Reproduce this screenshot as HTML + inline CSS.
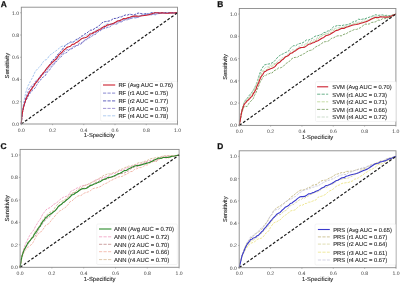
<!DOCTYPE html><html><head><meta charset="utf-8"><style>html,body{margin:0;padding:0;background:#fff;width:400px;height:283px;overflow:hidden}svg{display:block;will-change:transform}text{font-family:"Liberation Sans",sans-serif;text-rendering:geometricPrecision}</style></head><body>
<svg width="400" height="283" viewBox="0 0 400 283">
<rect width="400" height="283" fill="#fff"/>
<path d="M21.30,124.00 L21.75,117.76 L22.41,112.90 L23.18,109.03 L24.03,105.75 L24.95,102.96 L25.92,100.20 L26.95,98.97 L28.02,96.68 L29.13,94.56 L30.28,92.83 L31.46,92.07 L32.68,89.66 L33.93,89.09 L35.20,87.89 L36.51,85.40 L37.84,83.14 L39.20,81.27 L40.58,80.05 L41.98,77.85 L43.41,76.91 L44.85,76.28 L46.32,73.72 L47.81,71.37 L49.32,70.39 L50.85,67.90 L52.39,65.81 L53.95,64.62 L55.54,62.04 L57.13,61.04 L58.75,58.73 L60.38,57.26 L62.02,55.96 L63.69,53.47 L65.36,53.14 L67.06,52.27 L68.76,50.20 L70.48,48.98 L72.22,48.67 L73.97,47.20 L75.73,46.27 L77.51,45.44 L79.29,44.55 L81.10,43.88 L82.91,42.59 L84.74,40.22 L86.58,39.65 L88.43,38.12 L90.29,37.30 L92.16,35.96 L94.05,34.73 L95.95,34.13 L97.85,31.76 L99.77,31.31 L101.70,29.53 L103.65,28.57 L105.60,28.03 L107.56,27.49 L109.53,27.00 L111.51,25.44 L113.51,24.05 L115.51,24.25 L117.52,23.66 L119.54,21.77 L121.58,22.01 L123.62,20.10 L125.67,19.06 L127.73,18.16 L129.80,18.85 L131.88,17.99 L133.97,17.76 L136.06,17.85 L138.17,17.26 L140.28,15.61 L142.41,15.11 L144.54,14.75 L146.68,14.19 L148.83,14.71 L150.98,14.75 L153.15,14.45 L155.32,14.79 L157.51,13.89 L159.70,13.26 L161.89,12.76 L164.10,12.76 L166.31,12.76 L168.54,12.76 L170.77,12.76 L173.00,12.86 L175.25,12.76 L177.50,12.76" fill="none" stroke="#6a6ac4" stroke-width="0.9" stroke-dasharray="2.4,1.1"/>
<path d="M21.30,124.00 L21.75,117.59 L22.41,112.59 L23.18,108.41 L24.03,104.87 L24.95,102.02 L25.92,98.81 L26.95,96.98 L28.02,94.75 L29.13,92.83 L30.28,90.46 L31.46,88.90 L32.68,86.48 L33.93,85.53 L35.20,82.92 L36.51,81.09 L37.84,79.84 L39.20,77.69 L40.58,75.38 L41.98,74.74 L43.41,73.49 L44.85,71.47 L46.32,68.45 L47.81,67.12 L49.32,65.49 L50.85,63.09 L52.39,60.18 L53.95,59.45 L55.54,57.68 L57.13,54.95 L58.75,53.86 L60.38,51.65 L62.02,49.75 L63.69,47.56 L65.36,45.57 L67.06,44.03 L68.76,43.31 L70.48,42.04 L72.22,42.15 L73.97,41.82 L75.73,39.79 L77.51,38.94 L79.29,38.13 L81.10,36.22 L82.91,35.78 L84.74,34.00 L86.58,33.30 L88.43,31.64 L90.29,30.24 L92.16,30.11 L94.05,29.00 L95.95,27.52 L97.85,26.98 L99.77,25.04 L101.70,23.03 L103.65,21.92 L105.60,21.54 L107.56,21.30 L109.53,20.88 L111.51,19.96 L113.51,18.49 L115.51,18.44 L117.52,18.01 L119.54,16.93 L121.58,16.81 L123.62,15.69 L125.67,14.95 L127.73,15.06 L129.80,14.10 L131.88,14.69 L133.97,15.10 L136.06,13.92 L138.17,13.06 L140.28,13.41 L142.41,13.96 L144.54,13.88 L146.68,13.52 L148.83,13.96 L150.98,12.76 L153.15,12.76 L155.32,12.76 L157.51,12.76 L159.70,12.76 L161.89,12.76 L164.10,12.76 L166.31,12.76 L168.54,12.76 L170.77,12.76 L173.00,12.76 L175.25,12.76 L177.50,12.76" fill="none" stroke="#3c3cae" stroke-width="0.9" stroke-dasharray="2.4,1.1"/>
<path d="M21.30,124.00 L21.75,117.40 L22.41,111.99 L23.18,107.60 L24.03,103.88 L24.95,100.53 L25.92,97.19 L26.95,94.66 L28.02,91.74 L29.13,88.62 L30.28,87.97 L31.46,85.94 L32.68,85.11 L33.93,83.87 L35.20,81.55 L36.51,80.32 L37.84,79.89 L39.20,78.02 L40.58,75.85 L41.98,74.28 L43.41,74.06 L44.85,73.33 L46.32,71.75 L47.81,69.25 L49.32,67.06 L50.85,65.71 L52.39,64.59 L53.95,62.88 L55.54,61.12 L57.13,58.50 L58.75,57.34 L60.38,55.96 L62.02,53.47 L63.69,52.31 L65.36,50.42 L67.06,49.69 L68.76,49.71 L70.48,48.96 L72.22,47.66 L73.97,45.71 L75.73,45.91 L77.51,44.97 L79.29,43.36 L81.10,42.82 L82.91,41.95 L84.74,39.88 L86.58,39.02 L88.43,37.73 L90.29,35.82 L92.16,33.96 L94.05,33.78 L95.95,32.17 L97.85,31.42 L99.77,29.90 L101.70,29.43 L103.65,28.05 L105.60,26.62 L107.56,25.94 L109.53,24.78 L111.51,24.08 L113.51,24.09 L115.51,22.84 L117.52,21.99 L119.54,21.68 L121.58,21.65 L123.62,20.20 L125.67,20.05 L127.73,19.70 L129.80,18.94 L131.88,17.89 L133.97,16.65 L136.06,17.22 L138.17,17.34 L140.28,16.25 L142.41,15.34 L144.54,15.09 L146.68,14.26 L148.83,14.72 L150.98,14.76 L153.15,14.33 L155.32,13.23 L157.51,13.43 L159.70,13.57 L161.89,13.21 L164.10,13.31 L166.31,12.76 L168.54,13.12 L170.77,13.10 L173.00,12.84 L175.25,12.92 L177.50,12.76" fill="none" stroke="#8a7ccc" stroke-width="0.9" stroke-dasharray="2.4,1.1"/>
<path d="M21.30,124.00 L21.75,116.85 L22.41,110.71 L23.18,105.26 L24.03,100.64 L24.95,96.30 L25.92,91.95 L26.95,88.77 L28.02,85.78 L29.13,83.93 L30.28,81.41 L31.46,79.49 L32.68,77.13 L33.93,74.37 L35.20,71.63 L36.51,70.04 L37.84,68.58 L39.20,67.28 L40.58,65.88 L41.98,63.62 L43.41,61.57 L44.85,60.02 L46.32,59.79 L47.81,58.14 L49.32,55.66 L50.85,54.36 L52.39,53.59 L53.95,52.05 L55.54,51.16 L57.13,49.96 L58.75,48.71 L60.38,46.91 L62.02,46.26 L63.69,46.07 L65.36,45.27 L67.06,44.15 L68.76,43.33 L70.48,42.66 L72.22,42.19 L73.97,41.41 L75.73,40.07 L77.51,40.21 L79.29,39.91 L81.10,38.96 L82.91,37.79 L84.74,36.84 L86.58,34.99 L88.43,34.55 L90.29,33.03 L92.16,32.59 L94.05,32.06 L95.95,30.44 L97.85,29.49 L99.77,27.70 L101.70,27.75 L103.65,26.07 L105.60,24.64 L107.56,23.65 L109.53,24.13 L111.51,23.69 L113.51,23.63 L115.51,22.20 L117.52,20.63 L119.54,20.37 L121.58,19.10 L123.62,19.56 L125.67,19.61 L127.73,18.65 L129.80,17.53 L131.88,17.56 L133.97,16.42 L136.06,15.37 L138.17,15.28 L140.28,15.70 L142.41,15.21 L144.54,14.84 L146.68,13.85 L148.83,13.46 L150.98,13.74 L153.15,14.23 L155.32,13.36 L157.51,12.76 L159.70,12.81 L161.89,12.76 L164.10,12.76 L166.31,12.76 L168.54,12.76 L170.77,12.76 L173.00,12.76 L175.25,12.76 L177.50,12.76" fill="none" stroke="#9cc0ec" stroke-width="0.9" stroke-dasharray="2.4,1.1"/>
<path d="M21.30,124.00 L21.75,117.61 L22.41,112.59 L23.18,108.53 L24.03,105.07 L24.95,102.33 L25.92,99.31 L26.95,97.04 L28.02,94.93 L29.13,92.35 L30.28,90.86 L31.46,89.32 L32.68,87.38 L33.93,86.00 L35.20,83.49 L36.51,82.11 L37.84,80.50 L39.20,78.38 L40.58,77.08 L41.98,74.81 L43.41,72.59 L44.85,71.30 L46.32,68.93 L47.81,67.39 L49.32,65.37 L50.85,63.90 L52.39,62.35 L53.95,60.84 L55.54,59.51 L57.13,57.67 L58.75,55.10 L60.38,53.64 L62.02,52.23 L63.69,50.15 L65.36,48.96 L67.06,47.38 L68.76,46.83 L70.48,46.15 L72.22,44.37 L73.97,44.21 L75.73,42.86 L77.51,42.03 L79.29,40.55 L81.10,39.10 L82.91,38.11 L84.74,37.81 L86.58,37.18 L88.43,35.72 L90.29,33.96 L92.16,33.50 L94.05,32.24 L95.95,31.48 L97.85,30.23 L99.77,29.43 L101.70,28.08 L103.65,26.87 L105.60,26.28 L107.56,24.79 L109.53,24.60 L111.51,23.98 L113.51,23.24 L115.51,22.30 L117.52,20.98 L119.54,20.63 L121.58,19.69 L123.62,18.61 L125.67,18.81 L127.73,17.71 L129.80,17.24 L131.88,16.54 L133.97,16.11 L136.06,16.03 L138.17,16.20 L140.28,16.02 L142.41,15.71 L144.54,15.42 L146.68,15.15 L148.83,14.78 L150.98,14.02 L153.15,13.30 L155.32,12.82 L157.51,12.76 L159.70,13.10 L161.89,12.76 L164.10,12.97 L166.31,13.26 L168.54,13.12 L170.77,12.85 L173.00,12.96 L175.25,12.87 L177.50,12.76" fill="none" stroke="#cc1f2e" stroke-width="1.1" stroke-linejoin="round"/>
<line x1="21.30" y1="124.00" x2="177.50" y2="12.76" stroke="#1a1a1a" stroke-width="1.2" stroke-dasharray="2.8,1.8"/>
<rect x="21.30" y="7.20" width="156.20" height="116.80" fill="none" stroke="#8a8a8a" stroke-width="0.9"/>
<line x1="21.30" y1="124.00" x2="21.30" y2="125.20" stroke="#8a8a8a" stroke-width="0.6"/>
<text x="21.30" y="131.50" font-size="5.1" fill="#3c3c3c" text-anchor="middle">0.0</text>
<line x1="20.10" y1="124.00" x2="21.30" y2="124.00" stroke="#8a8a8a" stroke-width="0.6"/>
<text x="19.00" y="125.90" font-size="5.1" fill="#3c3c3c" text-anchor="end">0.0</text>
<line x1="52.54" y1="124.00" x2="52.54" y2="125.20" stroke="#8a8a8a" stroke-width="0.6"/>
<text x="52.54" y="131.50" font-size="5.1" fill="#3c3c3c" text-anchor="middle">0.2</text>
<line x1="20.10" y1="101.75" x2="21.30" y2="101.75" stroke="#8a8a8a" stroke-width="0.6"/>
<text x="19.00" y="103.65" font-size="5.1" fill="#3c3c3c" text-anchor="end">0.2</text>
<line x1="83.78" y1="124.00" x2="83.78" y2="125.20" stroke="#8a8a8a" stroke-width="0.6"/>
<text x="83.78" y="131.50" font-size="5.1" fill="#3c3c3c" text-anchor="middle">0.4</text>
<line x1="20.10" y1="79.50" x2="21.30" y2="79.50" stroke="#8a8a8a" stroke-width="0.6"/>
<text x="19.00" y="81.40" font-size="5.1" fill="#3c3c3c" text-anchor="end">0.4</text>
<line x1="115.02" y1="124.00" x2="115.02" y2="125.20" stroke="#8a8a8a" stroke-width="0.6"/>
<text x="115.02" y="131.50" font-size="5.1" fill="#3c3c3c" text-anchor="middle">0.6</text>
<line x1="20.10" y1="57.26" x2="21.30" y2="57.26" stroke="#8a8a8a" stroke-width="0.6"/>
<text x="19.00" y="59.16" font-size="5.1" fill="#3c3c3c" text-anchor="end">0.6</text>
<line x1="146.26" y1="124.00" x2="146.26" y2="125.20" stroke="#8a8a8a" stroke-width="0.6"/>
<text x="146.26" y="131.50" font-size="5.1" fill="#3c3c3c" text-anchor="middle">0.8</text>
<line x1="20.10" y1="35.01" x2="21.30" y2="35.01" stroke="#8a8a8a" stroke-width="0.6"/>
<text x="19.00" y="36.91" font-size="5.1" fill="#3c3c3c" text-anchor="end">0.8</text>
<line x1="177.50" y1="124.00" x2="177.50" y2="125.20" stroke="#8a8a8a" stroke-width="0.6"/>
<text x="177.50" y="131.50" font-size="5.1" fill="#3c3c3c" text-anchor="middle">1.0</text>
<line x1="20.10" y1="12.76" x2="21.30" y2="12.76" stroke="#8a8a8a" stroke-width="0.6"/>
<text x="19.00" y="14.66" font-size="5.1" fill="#3c3c3c" text-anchor="end">1.0</text>
<text x="99.40" y="137.20" font-size="5.80" fill="#262626" stroke="#262626" stroke-width="0.1" text-anchor="middle">1-Specificity</text>
<text x="8.70" y="65.60" font-size="5.70" fill="#262626" stroke="#262626" stroke-width="0.1" text-anchor="middle" transform="rotate(-90 8.70 65.60)">Sensitivity</text>
<rect x="100.60" y="81.30" width="76.40" height="39.90" rx="1.2" fill="#fff" fill-opacity="0.8" stroke="#e8e8e8" stroke-width="0.5"/>
<line x1="103.00" y1="85.00" x2="115.20" y2="85.00" stroke="#cc1f2e" stroke-width="1.1"/>
<text x="118.40" y="87.30" font-size="5.80" fill="#262626" stroke="#262626" stroke-width="0.1">RF (Avg AUC = 0.76)</text>
<line x1="103.00" y1="93.10" x2="115.20" y2="93.10" stroke="#6a6ac4" stroke-width="0.8" stroke-dasharray="3.2,1.3"/>
<text x="118.40" y="95.40" font-size="5.80" fill="#262626" stroke="#262626" stroke-width="0.1">RF (r1 AUC = 0.75)</text>
<line x1="103.00" y1="100.90" x2="115.20" y2="100.90" stroke="#3c3cae" stroke-width="0.8" stroke-dasharray="3.2,1.3"/>
<text x="118.40" y="103.20" font-size="5.80" fill="#262626" stroke="#262626" stroke-width="0.1">RF (r2 AUC = 0.77)</text>
<line x1="103.00" y1="108.40" x2="115.20" y2="108.40" stroke="#8a7ccc" stroke-width="0.8" stroke-dasharray="3.2,1.3"/>
<text x="118.40" y="110.70" font-size="5.80" fill="#262626" stroke="#262626" stroke-width="0.1">RF (r3 AUC = 0.75)</text>
<line x1="103.00" y1="115.80" x2="115.20" y2="115.80" stroke="#9cc0ec" stroke-width="0.8" stroke-dasharray="3.2,1.3"/>
<text x="118.40" y="118.10" font-size="5.80" fill="#262626" stroke="#262626" stroke-width="0.1">RF (r4 AUC = 0.78)</text>
<text x="0.70" y="6.90" font-size="8.4" font-weight="bold" fill="#111" stroke="#111" stroke-width="0.25">A</text>
<path d="M239.30,125.40 L239.75,122.60 L240.41,118.56 L241.18,113.86 L242.03,109.30 L242.96,106.11 L243.93,102.88 L244.96,101.06 L246.03,99.34 L247.15,98.36 L248.30,96.79 L249.49,95.12 L250.71,93.75 L251.96,92.16 L253.24,90.09 L254.55,88.12 L255.88,85.60 L257.24,81.50 L258.63,76.72 L260.03,72.89 L261.46,69.22 L262.91,67.01 L264.39,64.93 L265.88,64.54 L267.39,64.17 L268.92,63.99 L270.47,63.59 L272.04,62.91 L273.62,62.00 L275.22,60.19 L276.84,58.11 L278.48,56.87 L280.13,55.06 L281.80,54.35 L283.48,53.69 L285.17,52.65 L286.88,52.01 L288.61,51.02 L290.35,48.27 L292.10,46.64 L293.87,45.57 L295.65,45.84 L297.44,44.36 L299.25,43.65 L301.07,43.24 L302.90,42.67 L304.74,41.42 L306.60,39.87 L308.47,40.16 L310.34,39.25 L312.24,38.41 L314.14,36.82 L316.05,35.84 L317.97,35.75 L319.91,34.76 L321.86,34.30 L323.81,32.53 L325.78,32.37 L327.76,31.01 L329.74,30.64 L331.74,28.42 L333.75,26.61 L335.77,26.12 L337.80,25.37 L339.83,25.62 L341.88,25.60 L343.94,24.96 L346.00,24.94 L348.08,24.30 L350.16,23.69 L352.25,22.29 L354.36,21.53 L356.47,20.85 L358.59,19.18 L360.72,19.63 L362.85,19.07 L365.00,18.75 L367.15,17.95 L369.32,17.18 L371.49,16.43 L373.67,15.58 L375.85,14.70 L378.05,15.43 L380.25,15.09 L382.47,14.91 L384.69,15.54 L386.91,15.32 L389.15,15.61 L391.39,15.35 L393.64,14.54 L395.90,14.07" fill="none" stroke="#48a070" stroke-width="0.9" stroke-dasharray="2.4,1.1"/>
<path d="M239.30,125.40 L239.75,122.69 L240.41,118.70 L241.18,114.18 L242.03,110.22 L242.96,106.97 L243.93,104.02 L244.96,102.54 L246.03,101.26 L247.15,99.83 L248.30,98.72 L249.49,96.98 L250.71,95.88 L251.96,93.83 L253.24,92.71 L254.55,89.08 L255.88,87.32 L257.24,83.81 L258.63,79.52 L260.03,76.66 L261.46,73.97 L262.91,71.30 L264.39,70.50 L265.88,70.16 L267.39,68.93 L268.92,67.52 L270.47,66.66 L272.04,66.06 L273.62,65.75 L275.22,63.67 L276.84,63.34 L278.48,62.52 L280.13,61.26 L281.80,59.77 L283.48,59.08 L285.17,57.56 L286.88,56.28 L288.61,55.30 L290.35,53.78 L292.10,52.43 L293.87,51.76 L295.65,49.77 L297.44,48.84 L299.25,48.53 L301.07,47.90 L302.90,47.39 L304.74,45.71 L306.60,43.92 L308.47,44.02 L310.34,42.54 L312.24,42.26 L314.14,41.58 L316.05,40.06 L317.97,39.22 L319.91,37.15 L321.86,36.00 L323.81,34.75 L325.78,33.87 L327.76,34.11 L329.74,33.10 L331.74,32.24 L333.75,30.15 L335.77,29.67 L337.80,29.60 L339.83,28.35 L341.88,27.96 L343.94,27.25 L346.00,26.94 L348.08,26.51 L350.16,24.96 L352.25,24.43 L354.36,23.44 L356.47,23.35 L358.59,23.26 L360.72,22.89 L362.85,22.44 L365.00,21.34 L367.15,20.90 L369.32,19.81 L371.49,19.51 L373.67,18.55 L375.85,18.38 L378.05,17.50 L380.25,16.61 L382.47,16.27 L384.69,15.72 L386.91,16.79 L389.15,16.82 L391.39,15.80 L393.64,14.86 L395.90,14.07" fill="none" stroke="#b8d490" stroke-width="0.9" stroke-dasharray="2.4,1.1"/>
<path d="M239.30,125.40 L239.75,123.00 L240.41,119.59 L241.18,115.49 L242.03,111.89 L242.96,109.70 L243.93,106.89 L244.96,106.15 L246.03,106.42 L247.15,106.40 L248.30,104.49 L249.49,102.44 L250.71,101.21 L251.96,100.21 L253.24,98.64 L254.55,95.22 L255.88,92.96 L257.24,89.30 L258.63,86.22 L260.03,82.24 L261.46,79.98 L262.91,76.95 L264.39,75.61 L265.88,75.51 L267.39,74.04 L268.92,73.91 L270.47,72.95 L272.04,73.12 L273.62,71.04 L275.22,70.16 L276.84,69.49 L278.48,68.00 L280.13,67.94 L281.80,67.32 L283.48,66.24 L285.17,64.23 L286.88,62.95 L288.61,62.16 L290.35,60.12 L292.10,58.60 L293.87,57.61 L295.65,57.38 L297.44,57.43 L299.25,55.56 L301.07,55.38 L302.90,54.16 L304.74,53.35 L306.60,51.95 L308.47,50.83 L310.34,50.39 L312.24,49.90 L314.14,48.22 L316.05,46.64 L317.97,45.90 L319.91,44.83 L321.86,43.35 L323.81,41.92 L325.78,41.64 L327.76,41.33 L329.74,40.13 L331.74,38.10 L333.75,37.82 L335.77,36.52 L337.80,35.81 L339.83,35.79 L341.88,35.78 L343.94,34.23 L346.00,33.97 L348.08,32.45 L350.16,31.41 L352.25,30.55 L354.36,29.47 L356.47,29.41 L358.59,28.65 L360.72,27.47 L362.85,25.80 L365.00,24.12 L367.15,24.17 L369.32,23.94 L371.49,22.46 L373.67,22.19 L375.85,21.69 L378.05,20.06 L380.25,20.29 L382.47,18.73 L384.69,18.65 L386.91,18.03 L389.15,17.60 L391.39,16.65 L393.64,15.31 L395.90,14.07" fill="none" stroke="#78a060" stroke-width="0.9" stroke-dasharray="2.4,1.1"/>
<path d="M239.30,125.40 L239.75,122.67 L240.41,118.57 L241.18,113.81 L242.03,109.81 L242.96,106.56 L243.93,102.97 L244.96,101.45 L246.03,100.17 L247.15,99.11 L248.30,97.01 L249.49,96.53 L250.71,94.14 L251.96,92.72 L253.24,90.59 L254.55,87.50 L255.88,85.01 L257.24,80.87 L258.63,78.17 L260.03,74.39 L261.46,72.43 L262.91,70.41 L264.39,68.44 L265.88,67.09 L267.39,66.88 L268.92,66.79 L270.47,65.19 L272.04,64.61 L273.62,63.90 L275.22,63.30 L276.84,62.29 L278.48,60.38 L280.13,59.59 L281.80,57.89 L283.48,57.67 L285.17,56.71 L286.88,55.11 L288.61,54.08 L290.35,51.60 L292.10,49.78 L293.87,49.99 L295.65,49.39 L297.44,48.02 L299.25,46.47 L301.07,45.23 L302.90,45.09 L304.74,44.44 L306.60,43.18 L308.47,41.54 L310.34,41.59 L312.24,39.93 L314.14,40.00 L316.05,38.56 L317.97,37.53 L319.91,36.71 L321.86,35.31 L323.81,34.42 L325.78,34.20 L327.76,33.34 L329.74,31.41 L331.74,30.28 L333.75,28.85 L335.77,28.19 L337.80,27.85 L339.83,27.68 L341.88,27.71 L343.94,26.44 L346.00,25.72 L348.08,25.05 L350.16,25.41 L352.25,24.48 L354.36,23.76 L356.47,22.81 L358.59,22.10 L360.72,22.13 L362.85,20.99 L365.00,19.53 L367.15,20.08 L369.32,19.99 L371.49,18.07 L373.67,16.77 L375.85,16.66 L378.05,16.04 L380.25,16.18 L382.47,16.83 L384.69,16.11 L386.91,16.11 L389.15,16.19 L391.39,15.39 L393.64,14.75 L395.90,14.07" fill="none" stroke="#c0d4c0" stroke-width="0.9" stroke-dasharray="2.4,1.1"/>
<path d="M239.30,125.40 L239.75,122.79 L240.41,119.00 L241.18,114.55 L242.03,110.51 L242.96,107.80 L243.93,104.81 L244.96,103.47 L246.03,102.40 L247.15,100.89 L248.30,99.97 L249.49,98.90 L250.71,97.36 L251.96,96.38 L253.24,93.83 L254.55,91.87 L255.88,89.55 L257.24,85.69 L258.63,82.76 L260.03,79.02 L261.46,76.06 L262.91,74.31 L264.39,71.80 L265.88,71.14 L267.39,70.00 L268.92,69.41 L270.47,68.78 L272.04,68.15 L273.62,67.50 L275.22,66.33 L276.84,64.11 L278.48,63.01 L280.13,61.95 L281.80,60.18 L283.48,58.94 L285.17,57.12 L286.88,56.34 L288.61,55.42 L290.35,53.31 L292.10,52.98 L293.87,51.58 L295.65,50.68 L297.44,49.25 L299.25,48.12 L301.07,47.48 L302.90,47.54 L304.74,47.14 L306.60,45.88 L308.47,44.33 L310.34,44.07 L312.24,43.01 L314.14,42.45 L316.05,41.38 L317.97,40.77 L319.91,39.55 L321.86,38.18 L323.81,37.41 L325.78,35.71 L327.76,35.32 L329.74,34.39 L331.74,33.34 L333.75,32.09 L335.77,30.63 L337.80,30.28 L339.83,29.34 L341.88,28.25 L343.94,28.46 L346.00,27.27 L348.08,26.72 L350.16,25.93 L352.25,25.31 L354.36,24.79 L356.47,24.53 L358.59,23.92 L360.72,23.27 L362.85,22.66 L365.00,22.07 L367.15,21.37 L369.32,20.21 L371.49,19.01 L373.67,18.04 L375.85,17.20 L378.05,17.71 L380.25,16.84 L382.47,17.04 L384.69,17.17 L386.91,17.14 L389.15,16.71 L391.39,15.97 L393.64,15.03 L395.90,14.07" fill="none" stroke="#cc1f2e" stroke-width="1.1" stroke-linejoin="round"/>
<line x1="239.30" y1="125.40" x2="395.90" y2="14.07" stroke="#1a1a1a" stroke-width="1.2" stroke-dasharray="2.8,1.8"/>
<rect x="239.30" y="8.50" width="156.60" height="116.90" fill="none" stroke="#8a8a8a" stroke-width="0.9"/>
<line x1="239.30" y1="125.40" x2="239.30" y2="126.60" stroke="#8a8a8a" stroke-width="0.6"/>
<text x="239.30" y="132.90" font-size="5.1" fill="#3c3c3c" text-anchor="middle">0.0</text>
<line x1="238.10" y1="125.40" x2="239.30" y2="125.40" stroke="#8a8a8a" stroke-width="0.6"/>
<text x="237.00" y="127.30" font-size="5.1" fill="#3c3c3c" text-anchor="end">0.0</text>
<line x1="270.62" y1="125.40" x2="270.62" y2="126.60" stroke="#8a8a8a" stroke-width="0.6"/>
<text x="270.62" y="132.90" font-size="5.1" fill="#3c3c3c" text-anchor="middle">0.2</text>
<line x1="238.10" y1="103.13" x2="239.30" y2="103.13" stroke="#8a8a8a" stroke-width="0.6"/>
<text x="237.00" y="105.03" font-size="5.1" fill="#3c3c3c" text-anchor="end">0.2</text>
<line x1="301.94" y1="125.40" x2="301.94" y2="126.60" stroke="#8a8a8a" stroke-width="0.6"/>
<text x="301.94" y="132.90" font-size="5.1" fill="#3c3c3c" text-anchor="middle">0.4</text>
<line x1="238.10" y1="80.87" x2="239.30" y2="80.87" stroke="#8a8a8a" stroke-width="0.6"/>
<text x="237.00" y="82.77" font-size="5.1" fill="#3c3c3c" text-anchor="end">0.4</text>
<line x1="333.26" y1="125.40" x2="333.26" y2="126.60" stroke="#8a8a8a" stroke-width="0.6"/>
<text x="333.26" y="132.90" font-size="5.1" fill="#3c3c3c" text-anchor="middle">0.6</text>
<line x1="238.10" y1="58.60" x2="239.30" y2="58.60" stroke="#8a8a8a" stroke-width="0.6"/>
<text x="237.00" y="60.50" font-size="5.1" fill="#3c3c3c" text-anchor="end">0.6</text>
<line x1="364.58" y1="125.40" x2="364.58" y2="126.60" stroke="#8a8a8a" stroke-width="0.6"/>
<text x="364.58" y="132.90" font-size="5.1" fill="#3c3c3c" text-anchor="middle">0.8</text>
<line x1="238.10" y1="36.33" x2="239.30" y2="36.33" stroke="#8a8a8a" stroke-width="0.6"/>
<text x="237.00" y="38.23" font-size="5.1" fill="#3c3c3c" text-anchor="end">0.8</text>
<line x1="395.90" y1="125.40" x2="395.90" y2="126.60" stroke="#8a8a8a" stroke-width="0.6"/>
<text x="395.90" y="132.90" font-size="5.1" fill="#3c3c3c" text-anchor="middle">1.0</text>
<line x1="238.10" y1="14.07" x2="239.30" y2="14.07" stroke="#8a8a8a" stroke-width="0.6"/>
<text x="237.00" y="15.97" font-size="5.1" fill="#3c3c3c" text-anchor="end">1.0</text>
<text x="317.60" y="138.60" font-size="5.80" fill="#262626" stroke="#262626" stroke-width="0.1" text-anchor="middle">1-Specificity</text>
<text x="226.70" y="66.95" font-size="5.70" fill="#262626" stroke="#262626" stroke-width="0.1" text-anchor="middle" transform="rotate(-90 226.70 66.95)">Sensitivity</text>
<rect x="315.50" y="81.70" width="80.80" height="39.80" rx="1.2" fill="#fff" fill-opacity="0.8" stroke="#e8e8e8" stroke-width="0.5"/>
<line x1="317.10" y1="86.80" x2="328.20" y2="86.80" stroke="#cc1f2e" stroke-width="1.1"/>
<text x="332.30" y="89.10" font-size="5.80" fill="#262626" stroke="#262626" stroke-width="0.1">SVM (Avg AUC = 0.70)</text>
<line x1="317.10" y1="94.20" x2="328.20" y2="94.20" stroke="#48a070" stroke-width="0.8" stroke-dasharray="3.2,1.3"/>
<text x="332.30" y="96.50" font-size="5.80" fill="#262626" stroke="#262626" stroke-width="0.1">SVM (r1 AUC = 0.73)</text>
<line x1="317.10" y1="101.80" x2="328.20" y2="101.80" stroke="#b8d490" stroke-width="0.8" stroke-dasharray="3.2,1.3"/>
<text x="332.30" y="104.10" font-size="5.80" fill="#262626" stroke="#262626" stroke-width="0.1">SVM (r2 AUC = 0.71)</text>
<line x1="317.10" y1="109.40" x2="328.20" y2="109.40" stroke="#78a060" stroke-width="0.8" stroke-dasharray="3.2,1.3"/>
<text x="332.30" y="111.70" font-size="5.80" fill="#262626" stroke="#262626" stroke-width="0.1">SVM (r3 AUC = 0.66)</text>
<line x1="317.10" y1="117.00" x2="328.20" y2="117.00" stroke="#c0d4c0" stroke-width="0.8" stroke-dasharray="3.2,1.3"/>
<text x="332.30" y="119.30" font-size="5.80" fill="#262626" stroke="#262626" stroke-width="0.1">SVM (r4 AUC = 0.72)</text>
<text x="217.20" y="6.90" font-size="8.4" font-weight="bold" fill="#111" stroke="#111" stroke-width="0.25">B</text>
<path d="M20.10,267.30 L20.56,264.07 L21.23,259.25 L22.01,254.72 L22.88,251.76 L23.81,248.78 L24.80,245.82 L25.85,243.00 L26.94,241.19 L28.07,238.70 L29.24,236.32 L30.44,234.26 L31.68,232.54 L32.95,230.97 L34.25,229.14 L35.58,226.06 L36.94,224.10 L38.32,221.56 L39.72,220.01 L41.15,217.59 L42.60,214.30 L44.08,212.45 L45.57,210.54 L47.09,208.80 L48.62,208.29 L50.17,207.51 L51.75,206.31 L53.34,204.37 L54.95,203.89 L56.58,202.69 L58.22,201.49 L59.88,199.64 L61.55,198.48 L63.25,197.32 L64.95,196.76 L66.68,196.22 L68.41,195.37 L70.17,192.08 L71.93,190.67 L73.71,190.10 L75.51,188.95 L77.31,187.83 L79.13,187.54 L80.97,185.98 L82.81,185.73 L84.67,185.10 L86.55,184.87 L88.43,184.17 L90.33,183.74 L92.23,182.18 L94.15,180.62 L96.08,179.95 L98.03,179.17 L99.98,178.97 L101.95,177.84 L103.92,177.13 L105.91,176.92 L107.90,176.58 L109.91,174.94 L111.93,173.94 L113.96,173.41 L116.00,172.97 L118.05,171.52 L120.11,170.40 L122.17,170.37 L124.25,169.40 L126.34,168.12 L128.44,167.57 L130.54,166.99 L132.66,166.32 L134.79,164.90 L136.92,164.88 L139.06,164.72 L141.22,163.80 L143.38,163.50 L145.55,162.30 L147.73,160.86 L149.91,160.54 L152.11,160.50 L154.31,159.14 L156.53,159.47 L158.75,159.13 L160.98,157.53 L163.21,157.21 L165.46,156.34 L167.71,155.99 L169.98,156.22 L172.24,156.30 L174.52,155.74 L176.81,155.47 L179.10,155.01" fill="none" stroke="#f09cc0" stroke-width="0.9" stroke-dasharray="2.4,1.1"/>
<path d="M20.10,267.30 L20.56,264.39 L21.23,260.04 L22.01,256.10 L22.88,253.55 L23.81,251.14 L24.80,249.00 L25.85,247.85 L26.94,245.88 L28.07,244.07 L29.24,242.25 L30.44,240.51 L31.68,239.00 L32.95,237.48 L34.25,236.82 L35.58,235.66 L36.94,232.85 L38.32,230.30 L39.72,227.34 L41.15,225.89 L42.60,223.54 L44.08,221.48 L45.57,219.88 L47.09,218.10 L48.62,217.31 L50.17,216.18 L51.75,213.49 L53.34,212.28 L54.95,210.53 L56.58,208.49 L58.22,207.17 L59.88,205.62 L61.55,204.20 L63.25,203.37 L64.95,201.46 L66.68,200.33 L68.41,197.95 L70.17,196.51 L71.93,194.13 L73.71,192.70 L75.51,192.55 L77.31,191.92 L79.13,190.89 L80.97,189.38 L82.81,188.44 L84.67,188.24 L86.55,187.61 L88.43,185.78 L90.33,186.02 L92.23,185.15 L94.15,183.22 L96.08,182.40 L98.03,181.81 L99.98,180.41 L101.95,179.72 L103.92,179.28 L105.91,179.09 L107.90,179.09 L109.91,177.30 L111.93,177.06 L113.96,176.80 L116.00,175.58 L118.05,174.53 L120.11,173.87 L122.17,173.37 L124.25,172.96 L126.34,172.01 L128.44,170.93 L130.54,168.97 L132.66,167.75 L134.79,166.75 L136.92,166.86 L139.06,165.89 L141.22,164.41 L143.38,163.32 L145.55,162.59 L147.73,162.19 L149.91,162.14 L152.11,161.31 L154.31,161.43 L156.53,161.10 L158.75,158.98 L160.98,157.72 L163.21,156.96 L165.46,156.62 L167.71,157.33 L169.98,157.24 L172.24,156.51 L174.52,156.01 L176.81,155.58 L179.10,155.01" fill="none" stroke="#c08c8c" stroke-width="0.9" stroke-dasharray="2.4,1.1"/>
<path d="M20.10,267.30 L20.56,264.55 L21.23,260.49 L22.01,257.13 L22.88,255.06 L23.81,252.62 L24.80,251.12 L25.85,249.50 L26.94,248.01 L28.07,247.20 L29.24,246.35 L30.44,245.54 L31.68,243.98 L32.95,242.78 L34.25,240.07 L35.58,237.59 L36.94,235.52 L38.32,233.94 L39.72,232.23 L41.15,231.78 L42.60,229.92 L44.08,227.88 L45.57,225.27 L47.09,224.52 L48.62,223.80 L50.17,221.91 L51.75,219.72 L53.34,218.09 L54.95,215.99 L56.58,214.10 L58.22,212.25 L59.88,210.78 L61.55,210.24 L63.25,208.57 L64.95,207.82 L66.68,206.29 L68.41,204.23 L70.17,201.56 L71.93,200.99 L73.71,199.22 L75.51,197.70 L77.31,196.38 L79.13,195.59 L80.97,195.58 L82.81,194.07 L84.67,192.98 L86.55,192.40 L88.43,191.79 L90.33,190.88 L92.23,188.96 L94.15,188.29 L96.08,187.99 L98.03,187.41 L99.98,186.75 L101.95,185.62 L103.92,184.09 L105.91,183.44 L107.90,182.51 L109.91,180.93 L111.93,180.12 L113.96,179.00 L116.00,178.09 L118.05,177.00 L120.11,176.60 L122.17,176.42 L124.25,175.01 L126.34,174.33 L128.44,172.96 L130.54,171.60 L132.66,171.34 L134.79,169.06 L136.92,168.73 L139.06,167.55 L141.22,167.63 L143.38,166.37 L145.55,165.10 L147.73,164.83 L149.91,163.00 L152.11,162.13 L154.31,160.88 L156.53,161.12 L158.75,159.42 L160.98,158.25 L163.21,157.52 L165.46,157.94 L167.71,158.10 L169.98,157.45 L172.24,156.40 L174.52,156.26 L176.81,155.58 L179.10,155.01" fill="none" stroke="#f0b0a0" stroke-width="0.9" stroke-dasharray="2.4,1.1"/>
<path d="M20.10,267.30 L20.56,264.30 L21.23,259.80 L22.01,255.93 L22.88,253.17 L23.81,250.10 L24.80,248.27 L25.85,246.84 L26.94,244.40 L28.07,242.87 L29.24,241.89 L30.44,239.79 L31.68,237.28 L32.95,236.43 L34.25,233.24 L35.58,230.74 L36.94,229.40 L38.32,227.63 L39.72,225.38 L41.15,222.70 L42.60,220.06 L44.08,218.43 L45.57,215.88 L47.09,214.72 L48.62,213.33 L50.17,212.28 L51.75,211.60 L53.34,210.55 L54.95,207.64 L56.58,205.43 L58.22,203.76 L59.88,202.16 L61.55,201.29 L63.25,200.76 L64.95,199.41 L66.68,198.73 L68.41,196.40 L70.17,194.44 L71.93,193.09 L73.71,192.53 L75.51,191.70 L77.31,189.55 L79.13,188.86 L80.97,188.41 L82.81,186.30 L84.67,185.59 L86.55,185.06 L88.43,183.93 L90.33,182.96 L92.23,182.08 L94.15,181.42 L96.08,180.79 L98.03,178.77 L99.98,177.97 L101.95,176.65 L103.92,175.23 L105.91,174.74 L107.90,173.72 L109.91,174.02 L111.93,173.54 L113.96,172.28 L116.00,172.48 L118.05,170.69 L120.11,169.67 L122.17,169.03 L124.25,167.96 L126.34,167.02 L128.44,166.14 L130.54,166.38 L132.66,165.19 L134.79,164.88 L136.92,163.45 L139.06,162.65 L141.22,162.62 L143.38,161.56 L145.55,161.17 L147.73,160.22 L149.91,159.04 L152.11,158.38 L154.31,158.08 L156.53,157.27 L158.75,157.44 L160.98,156.62 L163.21,155.94 L165.46,155.70 L167.71,155.60 L169.98,155.47 L172.24,155.57 L174.52,155.65 L176.81,155.25 L179.10,155.01" fill="none" stroke="#d8bc98" stroke-width="0.9" stroke-dasharray="2.4,1.1"/>
<path d="M20.10,267.30 L20.56,264.31 L21.23,259.96 L22.01,256.05 L22.88,253.40 L23.81,250.79 L24.80,248.63 L25.85,246.67 L26.94,244.82 L28.07,242.57 L29.24,241.32 L30.44,240.03 L31.68,238.34 L32.95,237.17 L34.25,234.38 L35.58,232.60 L36.94,230.61 L38.32,228.22 L39.72,226.66 L41.15,224.11 L42.60,221.62 L44.08,220.09 L45.57,217.67 L47.09,216.68 L48.62,215.22 L50.17,214.25 L51.75,213.19 L53.34,212.05 L54.95,210.91 L56.58,209.24 L58.22,206.49 L59.88,205.24 L61.55,204.19 L63.25,202.47 L64.95,201.41 L66.68,199.76 L68.41,198.62 L70.17,196.89 L71.93,194.86 L73.71,194.54 L75.51,193.03 L77.31,192.03 L79.13,190.50 L80.97,189.27 L82.81,188.63 L84.67,188.69 L86.55,188.27 L88.43,186.98 L90.33,185.40 L92.23,185.12 L94.15,184.03 L96.08,183.45 L98.03,182.37 L99.98,181.75 L101.95,180.50 L103.92,179.35 L105.91,178.88 L107.90,177.49 L109.91,177.42 L111.93,176.82 L113.96,176.07 L116.00,175.12 L118.05,173.78 L120.11,173.27 L122.17,172.00 L124.25,170.59 L126.34,170.48 L128.44,168.95 L130.54,168.04 L132.66,166.89 L134.79,166.01 L136.92,165.48 L139.06,165.35 L141.22,164.86 L143.38,164.22 L145.55,163.61 L147.73,163.03 L149.91,162.34 L152.11,161.19 L154.31,159.97 L156.53,158.98 L158.75,158.08 L160.98,158.40 L163.21,157.45 L165.46,157.57 L167.71,157.41 L169.98,156.90 L172.24,156.24 L174.52,155.98 L176.81,155.50 L179.10,155.01" fill="none" stroke="#2a8a2a" stroke-width="1.1" stroke-linejoin="round"/>
<line x1="20.10" y1="267.30" x2="179.10" y2="155.01" stroke="#1a1a1a" stroke-width="1.2" stroke-dasharray="2.8,1.8"/>
<rect x="20.10" y="149.40" width="159.00" height="117.90" fill="none" stroke="#8a8a8a" stroke-width="0.9"/>
<line x1="20.10" y1="267.30" x2="20.10" y2="268.50" stroke="#8a8a8a" stroke-width="0.6"/>
<text x="20.10" y="274.80" font-size="5.1" fill="#3c3c3c" text-anchor="middle">0.0</text>
<line x1="18.90" y1="267.30" x2="20.10" y2="267.30" stroke="#8a8a8a" stroke-width="0.6"/>
<text x="17.80" y="269.20" font-size="5.1" fill="#3c3c3c" text-anchor="end">0.0</text>
<line x1="51.90" y1="267.30" x2="51.90" y2="268.50" stroke="#8a8a8a" stroke-width="0.6"/>
<text x="51.90" y="274.80" font-size="5.1" fill="#3c3c3c" text-anchor="middle">0.2</text>
<line x1="18.90" y1="244.84" x2="20.10" y2="244.84" stroke="#8a8a8a" stroke-width="0.6"/>
<text x="17.80" y="246.74" font-size="5.1" fill="#3c3c3c" text-anchor="end">0.2</text>
<line x1="83.70" y1="267.30" x2="83.70" y2="268.50" stroke="#8a8a8a" stroke-width="0.6"/>
<text x="83.70" y="274.80" font-size="5.1" fill="#3c3c3c" text-anchor="middle">0.4</text>
<line x1="18.90" y1="222.39" x2="20.10" y2="222.39" stroke="#8a8a8a" stroke-width="0.6"/>
<text x="17.80" y="224.29" font-size="5.1" fill="#3c3c3c" text-anchor="end">0.4</text>
<line x1="115.50" y1="267.30" x2="115.50" y2="268.50" stroke="#8a8a8a" stroke-width="0.6"/>
<text x="115.50" y="274.80" font-size="5.1" fill="#3c3c3c" text-anchor="middle">0.6</text>
<line x1="18.90" y1="199.93" x2="20.10" y2="199.93" stroke="#8a8a8a" stroke-width="0.6"/>
<text x="17.80" y="201.83" font-size="5.1" fill="#3c3c3c" text-anchor="end">0.6</text>
<line x1="147.30" y1="267.30" x2="147.30" y2="268.50" stroke="#8a8a8a" stroke-width="0.6"/>
<text x="147.30" y="274.80" font-size="5.1" fill="#3c3c3c" text-anchor="middle">0.8</text>
<line x1="18.90" y1="177.47" x2="20.10" y2="177.47" stroke="#8a8a8a" stroke-width="0.6"/>
<text x="17.80" y="179.37" font-size="5.1" fill="#3c3c3c" text-anchor="end">0.8</text>
<line x1="179.10" y1="267.30" x2="179.10" y2="268.50" stroke="#8a8a8a" stroke-width="0.6"/>
<text x="179.10" y="274.80" font-size="5.1" fill="#3c3c3c" text-anchor="middle">1.0</text>
<line x1="18.90" y1="155.01" x2="20.10" y2="155.01" stroke="#8a8a8a" stroke-width="0.6"/>
<text x="17.80" y="156.91" font-size="5.1" fill="#3c3c3c" text-anchor="end">1.0</text>
<text x="99.60" y="280.50" font-size="5.90" fill="#262626" stroke="#262626" stroke-width="0.1" text-anchor="middle">1-Specificity</text>
<text x="9.30" y="208.35" font-size="5.80" fill="#262626" stroke="#262626" stroke-width="0.1" text-anchor="middle" transform="rotate(-90 9.30 208.35)">Sensitivity</text>
<rect x="96.75" y="224.00" width="80.55" height="40.50" rx="1.2" fill="#fff" fill-opacity="0.8" stroke="#e8e8e8" stroke-width="0.5"/>
<line x1="99.00" y1="229.00" x2="111.40" y2="229.00" stroke="#2a8a2a" stroke-width="1.1"/>
<text x="114.00" y="231.30" font-size="5.90" fill="#262626" stroke="#262626" stroke-width="0.1">ANN (Avg AUC = 0.70)</text>
<line x1="99.00" y1="236.80" x2="111.40" y2="236.80" stroke="#f09cc0" stroke-width="0.8" stroke-dasharray="3.2,1.3"/>
<text x="114.00" y="239.10" font-size="5.90" fill="#262626" stroke="#262626" stroke-width="0.1">ANN (r1 AUC = 0.72)</text>
<line x1="99.00" y1="244.30" x2="111.40" y2="244.30" stroke="#c08c8c" stroke-width="0.8" stroke-dasharray="3.2,1.3"/>
<text x="114.00" y="246.60" font-size="5.90" fill="#262626" stroke="#262626" stroke-width="0.1">ANN (r2 AUC = 0.70)</text>
<line x1="99.00" y1="251.70" x2="111.40" y2="251.70" stroke="#f0b0a0" stroke-width="0.8" stroke-dasharray="3.2,1.3"/>
<text x="114.00" y="254.00" font-size="5.90" fill="#262626" stroke="#262626" stroke-width="0.1">ANN (r3 AUC = 0.66)</text>
<line x1="99.00" y1="259.60" x2="111.40" y2="259.60" stroke="#d8bc98" stroke-width="0.8" stroke-dasharray="3.2,1.3"/>
<text x="114.00" y="261.90" font-size="5.90" fill="#262626" stroke="#262626" stroke-width="0.1">ANN (r4 AUC = 0.70)</text>
<text x="0.50" y="148.50" font-size="8.4" font-weight="bold" fill="#111" stroke="#111" stroke-width="0.25">C</text>
<path d="M239.20,267.70 L239.65,265.71 L240.31,262.71 L241.08,259.18 L241.94,255.38 L242.86,252.79 L243.84,250.40 L244.87,247.61 L245.94,244.96 L247.06,242.92 L248.21,240.76 L249.40,239.70 L250.62,238.56 L251.88,236.90 L253.16,236.08 L254.47,235.16 L255.80,233.86 L257.16,232.47 L258.55,231.84 L259.96,230.81 L261.39,229.36 L262.84,228.12 L264.32,225.07 L265.81,223.19 L267.33,221.64 L268.86,218.38 L270.41,216.04 L271.98,214.42 L273.57,210.77 L275.17,209.23 L276.79,207.72 L278.43,206.91 L280.08,206.00 L281.75,204.67 L283.43,203.61 L285.13,202.42 L286.85,201.23 L288.57,199.79 L290.32,197.78 L292.07,196.27 L293.84,195.56 L295.62,193.31 L297.42,192.17 L299.23,190.88 L301.05,189.99 L302.88,190.19 L304.73,189.37 L306.58,188.66 L308.45,187.46 L310.34,187.32 L312.23,185.33 L314.13,184.92 L316.05,184.68 L317.98,183.35 L319.91,181.93 L321.86,180.73 L323.82,180.26 L325.79,180.15 L327.77,179.07 L329.76,177.90 L331.76,177.13 L333.77,175.73 L335.79,174.38 L337.82,173.94 L339.86,173.25 L341.91,172.51 L343.97,172.80 L346.04,171.35 L348.12,171.37 L350.20,171.21 L352.30,171.22 L354.40,170.55 L356.52,169.72 L358.64,169.20 L360.77,168.90 L362.91,168.76 L365.06,168.32 L367.22,166.73 L369.38,165.74 L371.56,164.76 L373.74,164.17 L375.93,163.02 L378.13,162.37 L380.33,161.00 L382.55,161.06 L384.77,160.25 L387.00,158.90 L389.24,158.13 L391.49,157.61 L393.74,157.05 L396.00,156.37" fill="none" stroke="#c4b880" stroke-width="0.9" stroke-dasharray="2.4,1.1"/>
<path d="M239.20,267.70 L239.65,265.83 L240.31,263.06 L241.08,259.67 L241.94,256.08 L242.86,253.87 L243.84,251.49 L244.87,249.60 L245.94,247.30 L247.06,246.11 L248.21,244.31 L249.40,242.10 L250.62,241.29 L251.88,240.62 L253.16,240.00 L254.47,239.58 L255.80,237.76 L257.16,237.58 L258.55,235.53 L259.96,233.84 L261.39,233.64 L262.84,231.54 L264.32,230.29 L265.81,228.66 L267.33,227.16 L268.86,225.30 L270.41,222.46 L271.98,220.98 L273.57,218.53 L275.17,216.54 L276.79,215.71 L278.43,214.33 L280.08,214.80 L281.75,213.63 L283.43,211.43 L285.13,210.81 L286.85,209.84 L288.57,207.40 L290.32,205.85 L292.07,204.78 L293.84,204.39 L295.62,202.54 L297.42,201.73 L299.23,199.82 L301.05,199.63 L302.88,198.24 L304.73,198.15 L306.58,196.67 L308.45,195.91 L310.34,194.62 L312.23,193.84 L314.13,192.75 L316.05,192.07 L317.98,191.67 L319.91,190.47 L321.86,188.57 L323.82,187.58 L325.79,187.57 L327.77,186.52 L329.76,184.38 L331.76,184.22 L333.77,183.54 L335.79,181.85 L337.82,180.21 L339.86,179.63 L341.91,179.01 L343.97,178.48 L346.04,178.45 L348.12,178.16 L350.20,176.89 L352.30,176.17 L354.40,174.76 L356.52,174.08 L358.64,172.03 L360.77,170.68 L362.91,170.10 L365.06,169.76 L367.22,169.06 L369.38,167.20 L371.56,165.77 L373.74,164.58 L375.93,164.37 L378.13,163.97 L380.33,163.00 L382.55,161.20 L384.77,160.73 L387.00,159.38 L389.24,159.10 L391.49,158.14 L393.74,157.15 L396.00,156.37" fill="none" stroke="#d8d4a0" stroke-width="0.9" stroke-dasharray="2.4,1.1"/>
<path d="M239.20,267.70 L239.65,265.89 L240.31,263.20 L241.08,260.08 L241.94,256.51 L242.86,254.42 L243.84,252.63 L244.87,250.91 L245.94,248.56 L247.06,246.96 L248.21,246.41 L249.40,244.15 L250.62,243.00 L251.88,243.00 L253.16,242.26 L254.47,241.78 L255.80,240.88 L257.16,239.47 L258.55,238.84 L259.96,238.45 L261.39,238.24 L262.84,237.17 L264.32,235.32 L265.81,233.14 L267.33,232.34 L268.86,230.52 L270.41,227.49 L271.98,225.23 L273.57,223.05 L275.17,222.26 L276.79,221.81 L278.43,220.66 L280.08,219.88 L281.75,218.27 L283.43,216.39 L285.13,215.62 L286.85,213.69 L288.57,212.90 L290.32,211.02 L292.07,210.56 L293.84,210.27 L295.62,209.62 L297.42,207.53 L299.23,206.10 L301.05,205.01 L302.88,205.10 L304.73,203.50 L306.58,203.41 L308.45,202.20 L310.34,202.06 L312.23,201.25 L314.13,200.53 L316.05,199.85 L317.98,197.38 L319.91,196.61 L321.86,196.16 L323.82,195.29 L325.79,194.27 L327.77,192.19 L329.76,190.85 L331.76,190.09 L333.77,188.54 L335.79,186.67 L337.82,185.55 L339.86,184.79 L341.91,183.39 L343.97,183.08 L346.04,182.70 L348.12,182.54 L350.20,181.77 L352.30,181.05 L354.40,179.27 L356.52,178.70 L358.64,177.72 L360.77,176.10 L362.91,175.01 L365.06,172.88 L367.22,171.92 L369.38,170.11 L371.56,169.49 L373.74,168.23 L375.93,166.67 L378.13,164.59 L380.33,164.32 L382.55,163.56 L384.77,162.13 L387.00,161.05 L389.24,159.50 L391.49,158.61 L393.74,157.59 L396.00,156.37" fill="none" stroke="#ece488" stroke-width="0.9" stroke-dasharray="2.4,1.1"/>
<path d="M239.20,267.70 L239.65,265.67 L240.31,262.62 L241.08,259.06 L241.94,255.26 L242.86,252.69 L243.84,250.46 L244.87,248.08 L245.94,245.88 L247.06,243.21 L248.21,241.17 L249.40,239.29 L250.62,236.72 L251.88,236.18 L253.16,235.84 L254.47,233.85 L255.80,233.50 L257.16,232.35 L258.55,231.16 L259.96,229.13 L261.39,227.99 L262.84,226.96 L264.32,225.83 L265.81,224.40 L267.33,221.60 L268.86,218.70 L270.41,215.87 L271.98,213.91 L273.57,211.13 L275.17,210.09 L276.79,209.46 L278.43,209.26 L280.08,208.05 L281.75,205.59 L283.43,204.10 L285.13,202.43 L286.85,200.60 L288.57,199.82 L290.32,199.41 L292.07,198.47 L293.84,197.09 L295.62,196.48 L297.42,194.82 L299.23,192.70 L301.05,192.04 L302.88,190.69 L304.73,190.14 L306.58,189.25 L308.45,189.19 L310.34,188.36 L312.23,187.24 L314.13,187.11 L316.05,185.84 L317.98,186.13 L319.91,184.63 L321.86,183.44 L323.82,182.37 L325.79,181.33 L327.77,180.55 L329.76,179.99 L331.76,179.03 L333.77,178.78 L335.79,177.04 L337.82,176.38 L339.86,175.21 L341.91,174.98 L343.97,174.47 L346.04,174.54 L348.12,172.90 L350.20,172.46 L352.30,171.53 L354.40,170.60 L356.52,170.27 L358.64,169.42 L360.77,168.49 L362.91,167.30 L365.06,167.57 L367.22,166.32 L369.38,166.01 L371.56,164.27 L373.74,164.42 L375.93,163.95 L378.13,162.25 L380.33,161.91 L382.55,161.19 L384.77,159.60 L387.00,158.73 L389.24,158.03 L391.49,157.64 L393.74,156.93 L396.00,156.37" fill="none" stroke="#c8c8dc" stroke-width="0.9" stroke-dasharray="2.4,1.1"/>
<path d="M239.20,267.70 L239.65,265.80 L240.31,263.03 L241.08,259.79 L241.94,256.03 L242.86,253.77 L243.84,251.44 L244.87,248.78 L245.94,246.47 L247.06,244.42 L248.21,242.95 L249.40,241.42 L250.62,239.50 L251.88,239.31 L253.16,237.97 L254.47,237.67 L255.80,237.11 L257.16,235.71 L258.55,235.15 L259.96,233.62 L261.39,232.02 L262.84,230.91 L264.32,228.60 L265.81,227.12 L267.33,225.15 L268.86,223.45 L270.41,221.46 L271.98,219.50 L273.57,217.72 L275.17,216.24 L276.79,214.21 L278.43,213.31 L280.08,212.45 L281.75,210.53 L283.43,209.19 L285.13,207.28 L286.85,206.39 L288.57,205.53 L290.32,203.50 L292.07,203.02 L293.84,201.41 L295.62,200.30 L297.42,198.66 L299.23,197.33 L301.05,196.47 L302.88,196.67 L304.73,196.42 L306.58,195.32 L308.45,193.92 L310.34,193.82 L312.23,192.88 L314.13,192.30 L316.05,191.22 L317.98,190.60 L319.91,189.36 L321.86,187.98 L323.82,187.25 L325.79,185.62 L327.77,185.29 L329.76,184.43 L331.76,183.44 L333.77,182.29 L335.79,180.82 L337.82,180.17 L339.86,179.00 L341.91,177.69 L343.97,177.67 L346.04,176.27 L348.12,175.73 L350.20,174.96 L352.30,174.45 L354.40,174.04 L356.52,173.55 L358.64,172.71 L360.77,171.72 L362.91,170.80 L365.06,170.02 L367.22,169.12 L369.38,167.78 L371.56,166.19 L373.74,164.78 L375.93,163.44 L378.13,163.23 L380.33,161.84 L382.55,161.50 L384.77,160.89 L387.00,159.92 L389.24,158.85 L391.49,158.17 L393.74,157.27 L396.00,156.37" fill="none" stroke="#3a3acc" stroke-width="1.1" stroke-linejoin="round"/>
<line x1="239.20" y1="267.70" x2="396.00" y2="156.37" stroke="#1a1a1a" stroke-width="1.2" stroke-dasharray="2.8,1.8"/>
<rect x="239.20" y="150.80" width="156.80" height="116.90" fill="none" stroke="#8a8a8a" stroke-width="0.9"/>
<line x1="239.20" y1="267.70" x2="239.20" y2="268.90" stroke="#8a8a8a" stroke-width="0.6"/>
<text x="239.20" y="275.20" font-size="5.1" fill="#3c3c3c" text-anchor="middle">0.0</text>
<line x1="238.00" y1="267.70" x2="239.20" y2="267.70" stroke="#8a8a8a" stroke-width="0.6"/>
<text x="236.90" y="269.60" font-size="5.1" fill="#3c3c3c" text-anchor="end">0.0</text>
<line x1="270.56" y1="267.70" x2="270.56" y2="268.90" stroke="#8a8a8a" stroke-width="0.6"/>
<text x="270.56" y="275.20" font-size="5.1" fill="#3c3c3c" text-anchor="middle">0.2</text>
<line x1="238.00" y1="245.43" x2="239.20" y2="245.43" stroke="#8a8a8a" stroke-width="0.6"/>
<text x="236.90" y="247.33" font-size="5.1" fill="#3c3c3c" text-anchor="end">0.2</text>
<line x1="301.92" y1="267.70" x2="301.92" y2="268.90" stroke="#8a8a8a" stroke-width="0.6"/>
<text x="301.92" y="275.20" font-size="5.1" fill="#3c3c3c" text-anchor="middle">0.4</text>
<line x1="238.00" y1="223.17" x2="239.20" y2="223.17" stroke="#8a8a8a" stroke-width="0.6"/>
<text x="236.90" y="225.07" font-size="5.1" fill="#3c3c3c" text-anchor="end">0.4</text>
<line x1="333.28" y1="267.70" x2="333.28" y2="268.90" stroke="#8a8a8a" stroke-width="0.6"/>
<text x="333.28" y="275.20" font-size="5.1" fill="#3c3c3c" text-anchor="middle">0.6</text>
<line x1="238.00" y1="200.90" x2="239.20" y2="200.90" stroke="#8a8a8a" stroke-width="0.6"/>
<text x="236.90" y="202.80" font-size="5.1" fill="#3c3c3c" text-anchor="end">0.6</text>
<line x1="364.64" y1="267.70" x2="364.64" y2="268.90" stroke="#8a8a8a" stroke-width="0.6"/>
<text x="364.64" y="275.20" font-size="5.1" fill="#3c3c3c" text-anchor="middle">0.8</text>
<line x1="238.00" y1="178.63" x2="239.20" y2="178.63" stroke="#8a8a8a" stroke-width="0.6"/>
<text x="236.90" y="180.53" font-size="5.1" fill="#3c3c3c" text-anchor="end">0.8</text>
<line x1="396.00" y1="267.70" x2="396.00" y2="268.90" stroke="#8a8a8a" stroke-width="0.6"/>
<text x="396.00" y="275.20" font-size="5.1" fill="#3c3c3c" text-anchor="middle">1.0</text>
<line x1="238.00" y1="156.37" x2="239.20" y2="156.37" stroke="#8a8a8a" stroke-width="0.6"/>
<text x="236.90" y="158.27" font-size="5.1" fill="#3c3c3c" text-anchor="end">1.0</text>
<text x="317.60" y="280.90" font-size="5.80" fill="#262626" stroke="#262626" stroke-width="0.1" text-anchor="middle">1-Specificity</text>
<text x="226.60" y="209.25" font-size="5.70" fill="#262626" stroke="#262626" stroke-width="0.1" text-anchor="middle" transform="rotate(-90 226.60 209.25)">Sensitivity</text>
<rect x="315.00" y="224.00" width="80.50" height="41.00" rx="1.2" fill="#fff" fill-opacity="0.8" stroke="#e8e8e8" stroke-width="0.5"/>
<line x1="317.90" y1="229.50" x2="329.80" y2="229.50" stroke="#3a3acc" stroke-width="1.1"/>
<text x="333.20" y="231.80" font-size="5.80" fill="#262626" stroke="#262626" stroke-width="0.1">PRS (Avg AUC = 0.65)</text>
<line x1="317.90" y1="236.90" x2="329.80" y2="236.90" stroke="#c4b880" stroke-width="0.8" stroke-dasharray="3.2,1.3"/>
<text x="333.20" y="239.20" font-size="5.80" fill="#262626" stroke="#262626" stroke-width="0.1">PRS (r1 AUC = 0.67)</text>
<line x1="317.90" y1="244.10" x2="329.80" y2="244.10" stroke="#d8d4a0" stroke-width="0.8" stroke-dasharray="3.2,1.3"/>
<text x="333.20" y="246.40" font-size="5.80" fill="#262626" stroke="#262626" stroke-width="0.1">PRS (r2 AUC = 0.64)</text>
<line x1="317.90" y1="252.20" x2="329.80" y2="252.20" stroke="#ece488" stroke-width="0.8" stroke-dasharray="3.2,1.3"/>
<text x="333.20" y="254.50" font-size="5.80" fill="#262626" stroke="#262626" stroke-width="0.1">PRS (r3 AUC = 0.61)</text>
<line x1="317.90" y1="260.00" x2="329.80" y2="260.00" stroke="#c8c8dc" stroke-width="0.8" stroke-dasharray="3.2,1.3"/>
<text x="333.20" y="262.30" font-size="5.80" fill="#262626" stroke="#262626" stroke-width="0.1">PRS (r4 AUC = 0.67)</text>
<text x="217.20" y="148.50" font-size="8.4" font-weight="bold" fill="#111" stroke="#111" stroke-width="0.25">D</text>
</svg></body></html>
